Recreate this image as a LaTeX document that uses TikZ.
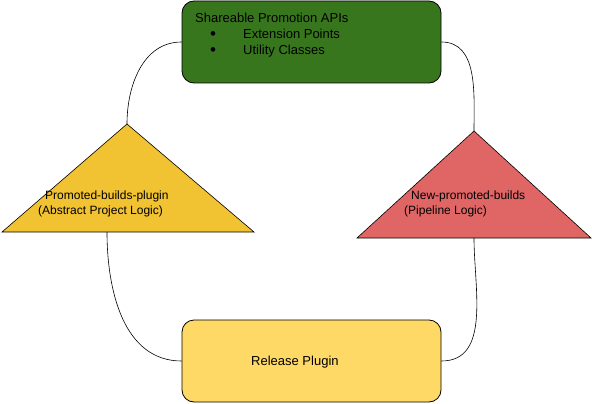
\documentclass[tikz,border=0pt]{standalone}
\usepackage{fontspec}
\setmainfont{Liberation Sans}
\usepackage{tikz}
\usetikzlibrary{positioning, calc}
\definecolor{apigreen}{HTML}{38761D}
\definecolor{promoyellow}{HTML}{F1C232}
\definecolor{pipered}{HTML}{E06666}
\definecolor{releaseyellow}{HTML}{FFD966}
\newcommand{\bigdot}{\raisebox{-0.6pt}{\fontsize{17}{16}\selectfont\textbullet}}

\begin{document}
\begin{tikzpicture}
    [x=1pt, y=-1pt,
      box/.style={draw, line width=0.8pt, minimum width=259pt, minimum height=82pt},
      rounded/.style={rounded corners=12pt},
      tri/.style={draw, line width=0.6pt},
      link/.style={line width=0.6pt},
      txt/.style={inner sep=0pt, align=left, font=\fontsize{13}{16}\selectfont},
      smalltxt/.style={inner sep=0pt, align=left, font=\fontsize{12}{15}\selectfont}]

    \useasboundingbox (0,0) rectangle (592,404);

    % top and bottom boxes
    \node[box, rounded, fill=apigreen] (API) at (311.5,42) {};
    \node[txt, anchor=north west] (APItext) at (195,13)
    {Shareable Promotion APIs \\
     \hspace{15pt}\bigdot\hspace{27pt}Extension Points \\
     \hspace{15pt}\bigdot\hspace{27pt}Utility Classes};
    \node[box, rounded, fill=releaseyellow] (R) at (311.5,361) {};
    \node[txt, anchor=base west] (Rtext) at (251,365) {Release Plugin};

    % left triangle
    \coordinate (P-top) at (127,124);
    \coordinate (P-left) at (2,232);
    \coordinate (P-right) at (254,232);
    \coordinate (P-foot) at (107,232);
    \filldraw[tri, fill=promoyellow] (P-top) -- (P-right) -- (P-left) -- cycle;
    \node[smalltxt, anchor=base west] (Ptext1) at (45,199) {Promoted-builds-plugin};
    \node[smalltxt, anchor=base west] (Ptext2) at (38,214) {(Abstract Project Logic)};

    % right triangle
    \coordinate (N-top) at (474,131);
    \coordinate (N-left) at (357,238);
    \coordinate (N-right) at (591,238);
    \coordinate (N-foot) at (474,238);
    \filldraw[tri, fill=pipered] (N-top) -- (N-right) -- (N-left) -- cycle;
    \node[smalltxt, anchor=base west] (Ntext1) at (411,199) {New-promoted-builds};
    \node[smalltxt, anchor=base west] (Ntext2) at (404,214) {(Pipeline Logic)};

    \draw[link] (API.west) to[out=180, in=90] (P-top);
    \draw[link] (API.east) to[out=0, in=90] (N-top);
    \draw[link] (P-foot) to[out=-90, in=180] (R.west);
    \draw[link] (N-foot) to[out=-90, in=0] (R.east);
  \end{tikzpicture}
\end{document}
